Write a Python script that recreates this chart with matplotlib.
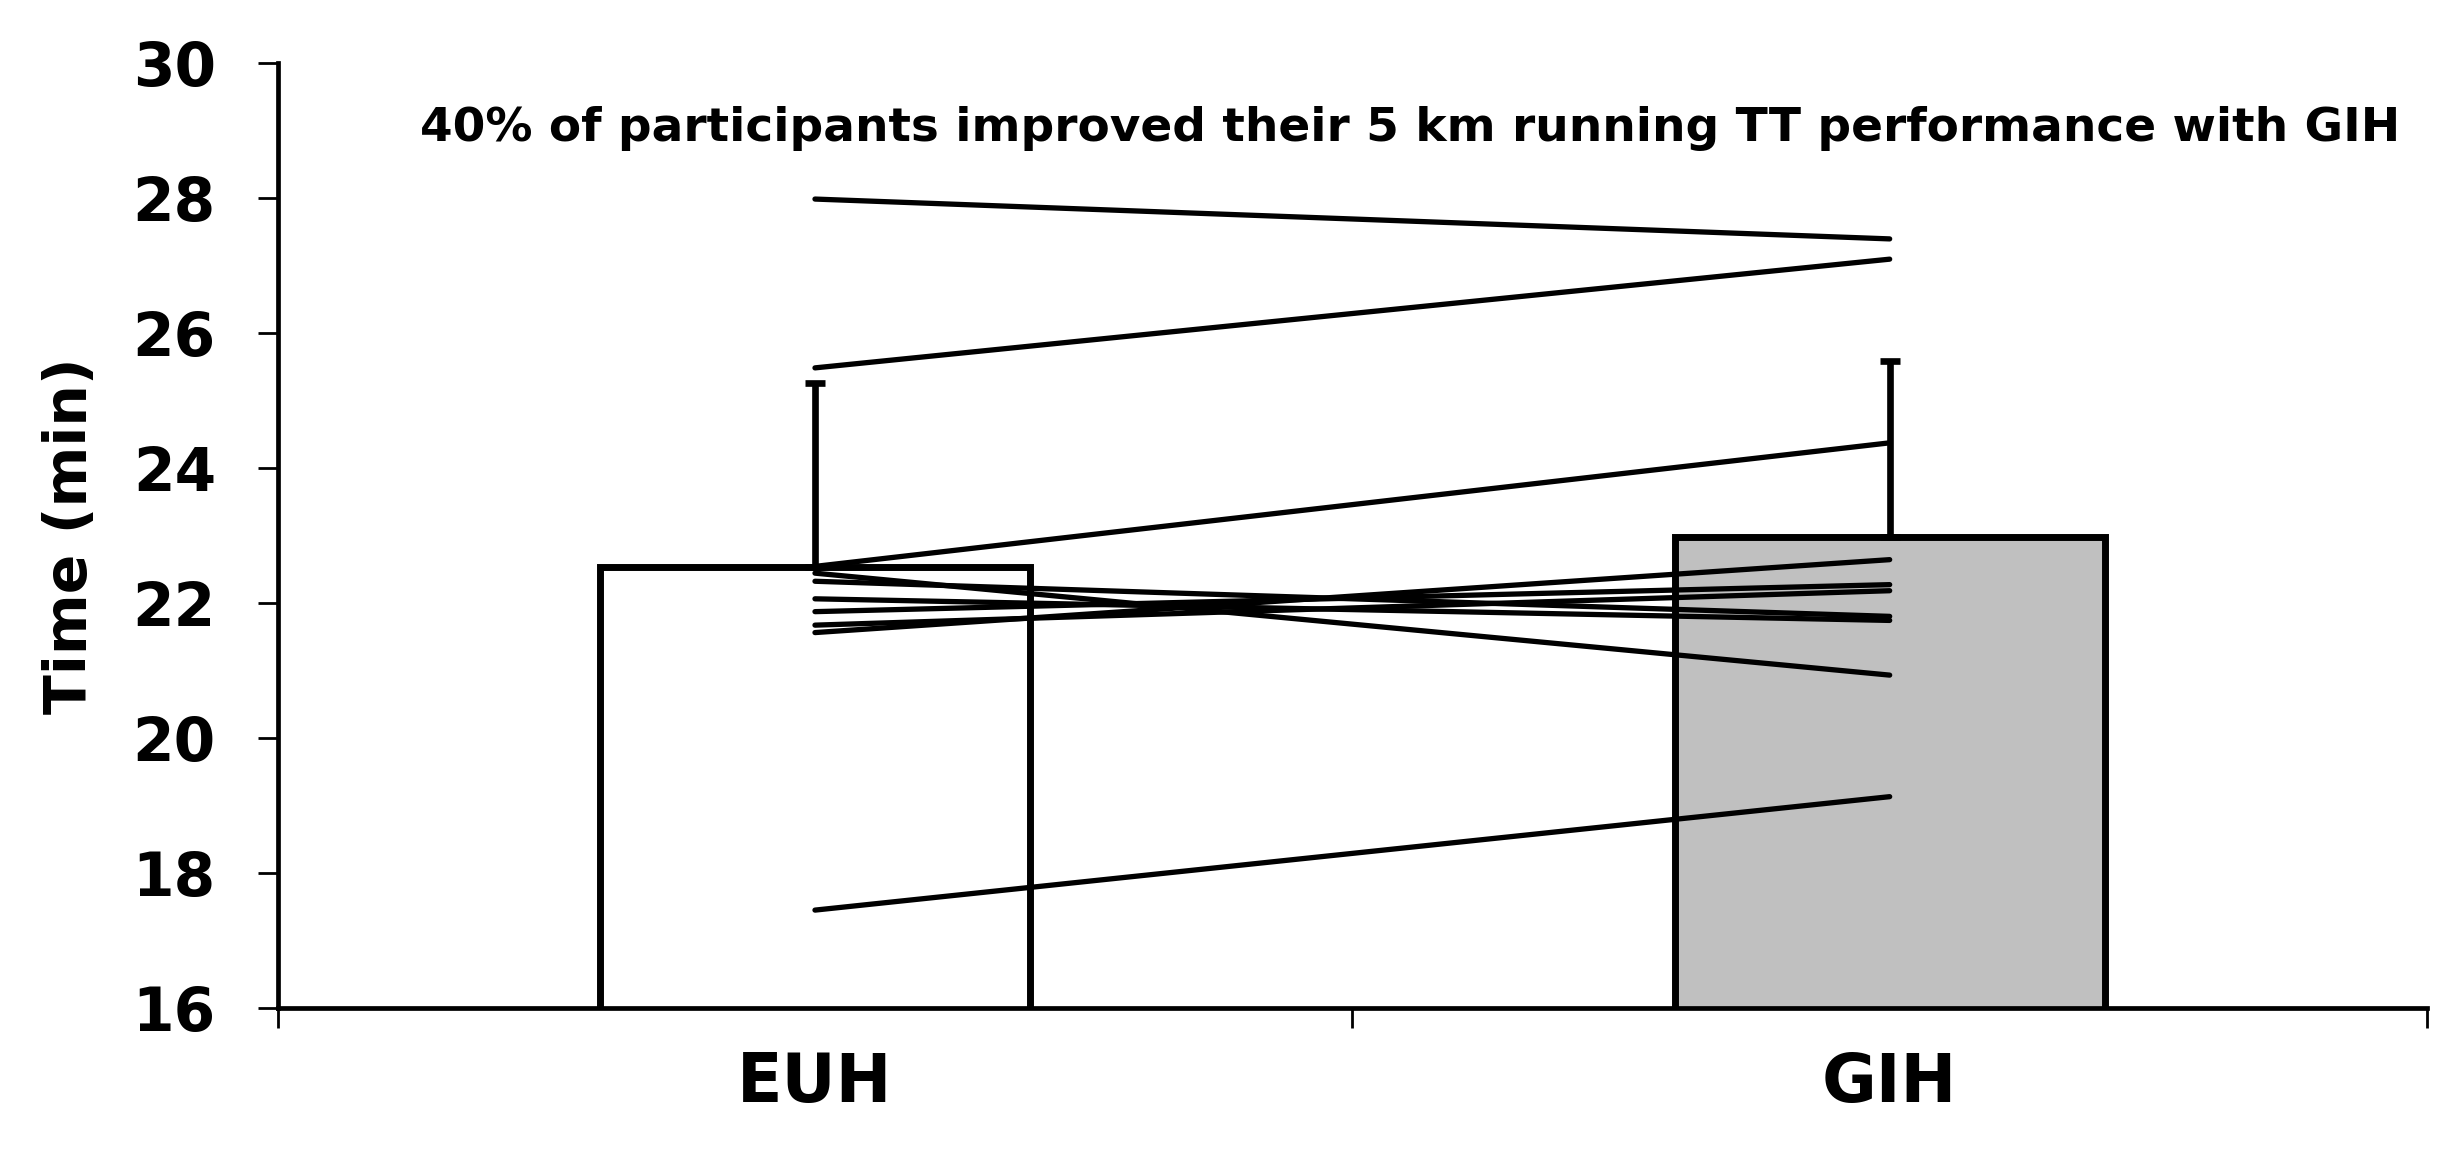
import matplotlib
matplotlib.use("Agg")
import matplotlib.pyplot as plt

# ---- data ----
conditions = ["EUH", "GIH"]
mean_time = [22.53, 22.97]
sd_time = [2.73, 2.61]
bar_colors = ["white", "#c0c0c0"]

euh_individual = [27.98, 25.48, 22.54, 22.44, 22.32, 22.06, 21.87, 21.67, 21.56, 17.45]
gih_individual = [27.39, 27.09, 24.37, 20.93, 21.80, 21.74, 22.27, 22.18, 22.64, 19.13]

y_ticks = [16, 18, 20, 22, 24, 26, 28, 30]
annotation = "40% of participants improved their 5 km running TT performance with GIH"
y_label = "Time (min)"

plt.rcParams['font.family'] = ['DejaVu Sans']

fig = plt.figure(figsize=(24.59, 11.54), dpi=100)
ax = fig.add_axes([0.1129, 0.1265, 0.8741, 0.8192])

xpos = [0.5, 1.5]
ax.bar(xpos, mean_time, width=0.4, color=bar_colors, edgecolor="black",
       linewidth=5, zorder=2)
ax.errorbar(xpos, mean_time, yerr=[[0, 0], sd_time], fmt="none", ecolor="black",
            elinewidth=4.8, capsize=7, capthick=4.8, zorder=3)

for e, g in zip(euh_individual, gih_individual):
    ax.plot(xpos, [e, g], color="black", lw=3.8, solid_capstyle="round", zorder=4)

ax.set_xlim(0, 2)
ax.set_ylim(16, 30)
ax.set_yticks(y_ticks)
ax.set_yticklabels([str(t) for t in y_ticks], fontsize=43, fontweight="bold")
ax.tick_params(axis="y", direction="out", length=14.4, width=2, pad=30)

ax.set_xticks([0, 1, 2])
ax.set_xticklabels(["", "", ""])
ax.tick_params(axis="x", which="major", direction="out", length=14.4, width=2)
ax.set_xticks(xpos, minor=True)
ax.set_xticklabels(conditions, minor=True, fontsize=48, fontweight="bold")
ax.tick_params(axis="x", which="minor", length=0, pad=30)

for s in ["top", "right"]:
    ax.spines[s].set_visible(False)
for s in ["left", "bottom"]:
    ax.spines[s].set_linewidth(3.4)

ax.set_ylabel(y_label, fontsize=42, fontweight="bold", va="center")
ax.yaxis.set_label_coords(-0.0965, 0.5)

t = ax.text(0.5269, 0.917, annotation, transform=ax.transAxes, ha="center",
            va="baseline", fontsize=27, fontweight="bold")
fig.canvas.draw()
w = t.get_window_extent().width
t.set_fontsize(27 * 1979.0 / w)

fig.savefig("out.png", dpi=100)
